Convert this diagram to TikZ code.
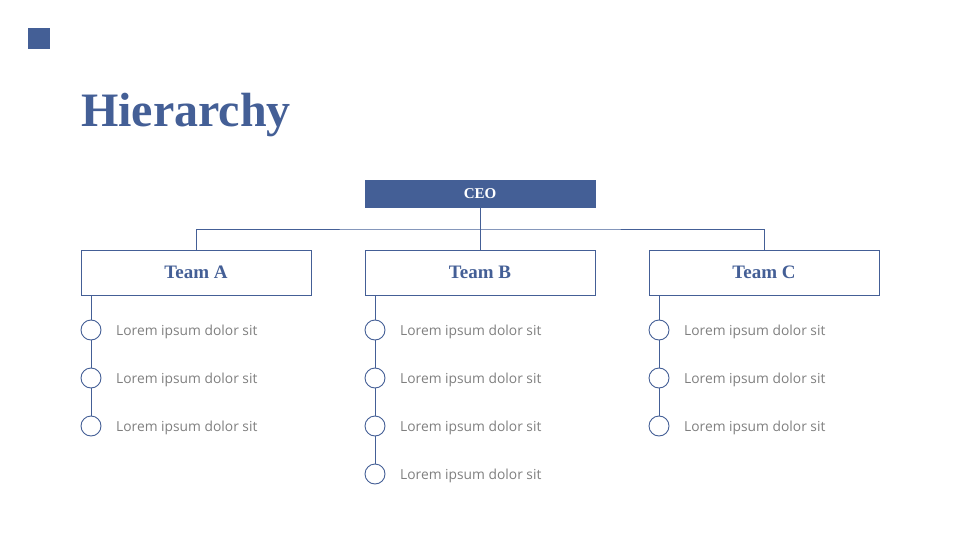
\documentclass[tikz,border=0pt]{standalone}
\usepackage{fontspec}
\setmainfont{Liberation Serif}
\newfontfamily\bodyfont{Open Sans}
\definecolor{navy}{HTML}{445F96}
\definecolor{txtgray}{HTML}{7F7F7F}
\begin{document}
\begin{tikzpicture}[x=1pt,y=-1pt,
  line/.style={draw=navy,line width=0.9pt},
  ceobox/.style={fill=navy,draw=navy,minimum width=230pt,minimum height=27pt,inner sep=0pt,text=white,font=\bfseries\fontsize{15}{16}\selectfont},
  teambox/.style={draw=navy,line width=0.9pt,fill=white,minimum width=230pt,minimum height=45pt,inner sep=0pt,text=navy,font=\bfseries\fontsize{19}{20}\selectfont},
  dot/.style={circle,draw=navy,line width=0.9pt,fill=white,minimum size=20pt,inner sep=0pt},
  item/.style={anchor=base west,text=txtgray,inner sep=0pt,font=\bodyfont\fontsize{13.8}{16}\selectfont}]
\useasboundingbox (0,0) rectangle (960,540);
\node[fill=navy,minimum width=22pt,minimum height=21pt,inner sep=0pt] (sq) at (39,38.5) {};
\node[anchor=base west,inner sep=0pt,text=navy,font=\bfseries\fontsize{48}{50}\selectfont] (title) at (81,127) {Hierarchy};
\node[ceobox] (ceo) at (480,193.5) {CEO};
\node[teambox] (ta) at (196,272.5) {Team A};
\node[teambox] (tb) at (480,272.5) {Team B};
\node[teambox] (tc) at (764,272.5) {Team C};
\coordinate (j) at (480,229);
\draw[line] (ceo.south) -- (tb.north);
\draw[line] (ta.north) |- (j) -| (tc.north);
\foreach \i/\y in {1/330,2/378,3/426}{
  \node[dot] (a\i) at (91,\y) {};
  \node[item] (at\i) at (116,\y+5) {Lorem ipsum dolor sit};
}
\foreach \i/\y in {1/330,2/378,3/426,4/474}{
  \node[dot] (b\i) at (375,\y) {};
  \node[item] (bt\i) at (400,\y+5) {Lorem ipsum dolor sit};
}
\foreach \i/\y in {1/330,2/378,3/426}{
  \node[dot] (c\i) at (659,\y) {};
  \node[item] (ct\i) at (684,\y+5) {Lorem ipsum dolor sit};
}
\coordinate (as) at (91,295);
\coordinate (bs) at (375,295);
\coordinate (cs) at (659,295);
\draw[line] (as) -- (a1) (a1) -- (a2) (a2) -- (a3);
\draw[line] (bs) -- (b1) (b1) -- (b2) (b2) -- (b3) (b3) -- (b4);
\draw[line] (cs) -- (c1) (c1) -- (c2) (c2) -- (c3);
\end{tikzpicture}
\end{document}
